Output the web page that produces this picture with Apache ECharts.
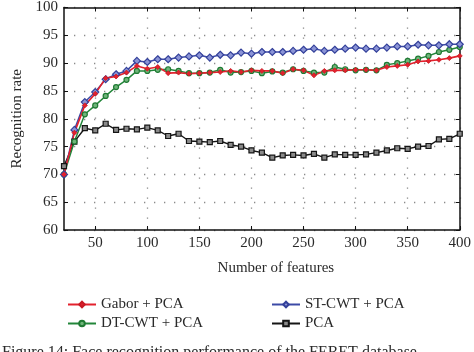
<!DOCTYPE html>
<html>
<head>
<meta charset="utf-8">
<script src="https://cdn.jsdelivr.net/npm/echarts@6/dist/echarts.min.js"></script>
<style>
  html, body { margin: 0; padding: 0; background: #fff; }
  #chart { width: 474px; height: 352px; }
</style>
</head>
<body>
<div id="chart"></div>
<script>
// number of features (x values)
const features = [20, 30, 40, 50, 60, 70, 80, 90, 100, 110, 120, 130, 140, 150, 160, 170, 180, 190, 200,
  210, 220, 230, 240, 250, 260, 270, 280, 290, 300, 310, 320, 330, 340, 350, 360, 370, 380, 390, 400];

// recognition rates
const gaborPca = [70.0, 77.5, 82.4, 84.5, 87.3, 87.6, 88.3, 89.5, 89.0,
  89.3, 88.2, 88.3, 88.1, 88.2, 88.3, 88.4, 88.6, 88.4, 88.7,
  88.6, 88.6, 88.2, 88.9, 88.7, 87.8, 88.6, 88.7, 88.7, 88.8,
  88.8, 88.7, 89.3, 89.5, 89.7, 90.3, 90.4, 90.6, 90.9, 91.3];
const dtCwtPca = [70.0, 75.9, 80.8, 82.4, 84.1, 85.7, 87.0, 88.6, 88.6,
  88.8, 88.9, 88.6, 88.2, 88.2, 88.3, 88.8, 88.3, 88.4, 88.6,
  88.2, 88.5, 88.3, 88.9, 88.6, 88.3, 88.3, 89.3, 88.9, 88.7,
  88.8, 88.7, 89.7, 90.0, 90.4, 90.8, 91.3, 92.0, 92.4, 92.9];
const stCwtPca = [70.0, 78.0, 83.0, 84.8, 87.1, 88.0, 88.6, 90.4, 90.2,
  90.7, 90.7, 91.0, 91.2, 91.4, 91.0, 91.5, 91.4, 91.9, 91.7,
  92.0, 92.0, 92.0, 92.2, 92.4, 92.6, 92.2, 92.4, 92.6, 92.8,
  92.6, 92.6, 92.8, 93.0, 93.0, 93.3, 93.2, 93.2, 93.4, 93.4];
const pcaOnly = [71.5, 75.9, 78.3, 77.9, 79.1, 78.0, 78.2, 78.1, 78.4,
  77.9, 76.9, 77.3, 76.0, 75.9, 75.8, 76.0, 75.3, 75.0, 74.3,
  73.9, 73.0, 73.4, 73.5, 73.4, 73.7, 73.0, 73.6, 73.5, 73.5,
  73.6, 73.9, 74.3, 74.7, 74.6, 75.0, 75.1, 76.3, 76.4, 77.3];

const xTicks = [50, 100, 150, 200, 250, 300, 350, 400];

const FONT = "'Liberation Serif', 'DejaVu Serif', serif";
const TEXT = "#2a2a2a";

const pairs = (ys) => features.map((x, i) => [x, ys[i]]);

const chart = echarts.init(document.getElementById("chart"), null, { renderer: "canvas" });

const gridLine = {
  show: true,
  lineStyle: { color: "#8a8a8a", width: 1.3, type: [1.3, 8.7] },
};

const legendBase = {
  orient: "vertical",
  top: 292,
  itemWidth: 28,
  itemHeight: 7,
  itemGap: 4,
  textStyle: { fontFamily: FONT, fontSize: 15, color: TEXT },
};

const option = {
  animation: false,
  backgroundColor: "#fff",
  textStyle: { fontFamily: FONT },
  grid: { left: 64, right: 11, top: 4, bottom: 122 },
  xAxis: [
    {
      type: "value",
      min: 20,
      max: 400,
      position: "bottom",
      name: "Number of features",
      nameLocation: "middle",
      nameGap: 31,
      nameTextStyle: { fontFamily: FONT, fontSize: 15, color: TEXT, padding: [0, 0, 0, 28] },
      axisLine: { onZero: false, lineStyle: { color: "#111", width: 1.5 } },
      axisTick: { inside: true, length: 4, customValues: xTicks, lineStyle: { color: "#111" } },
      axisLabel: { customValues: xTicks, margin: 6, fontFamily: FONT, fontSize: 15, color: TEXT },
      splitLine: gridLine,
    },
    {
      type: "value",
      min: 20,
      max: 400,
      position: "top",
      axisLine: { onZero: false, lineStyle: { color: "#111", width: 1.5 } },
      axisTick: { inside: true, length: 4, customValues: xTicks, lineStyle: { color: "#111" } },
      axisLabel: { show: false },
      splitLine: { show: false },
    },
  ],
  yAxis: [
    {
      type: "value",
      min: 60,
      max: 100,
      interval: 5,
      name: "Recognition rate",
      nameLocation: "middle",
      nameGap: 36,
      nameTextStyle: { fontFamily: FONT, fontSize: 15, color: TEXT },
      axisLine: { show: true, onZero: false, lineStyle: { color: "#111", width: 1.5 } },
      axisTick: { show: true, inside: true, length: 4, lineStyle: { color: "#111" } },
      axisLabel: { margin: 6, fontFamily: FONT, fontSize: 15, color: TEXT },
      splitLine: gridLine,
    },
    {
      type: "value",
      min: 60,
      max: 100,
      interval: 5,
      position: "right",
      axisLine: { show: true, onZero: false, lineStyle: { color: "#111", width: 1.5 } },
      axisTick: { show: true, inside: true, length: 4, lineStyle: { color: "#111" } },
      axisLabel: { show: false },
      splitLine: { show: false },
    },
  ],
  legend: [
    Object.assign({}, legendBase, { left: 62, data: ["Gabor + PCA", "DT-CWT + PCA"] }),
    Object.assign({}, legendBase, { left: 266, data: ["ST-CWT + PCA", "PCA"] }),
  ],
  graphic: [
    {
      type: "text",
      left: 2,
      top: 345,
      style: {
        text: "Figure 14: Face recognition performance of the FERET database",
        font: "16px " + FONT,
        fill: TEXT,
      },
    },
  ],
  series: [
    {
      name: "PCA",
      type: "line",
      data: pairs(pcaOnly),
      symbol: "rect",
      symbolSize: 5,
      lineStyle: { color: "#151515", width: 1.4 },
      itemStyle: { color: "#8a8a8a", borderColor: "#151515", borderWidth: 1.2 },
    },
    {
      name: "DT-CWT + PCA",
      type: "line",
      data: pairs(dtCwtPca),
      symbol: "circle",
      symbolSize: 5,
      lineStyle: { color: "#23863a", width: 1.5 },
      itemStyle: { color: "#6fb57a", borderColor: "#1f7a33", borderWidth: 1.2 },
    },
    {
      name: "ST-CWT + PCA",
      type: "line",
      data: pairs(stCwtPca),
      symbol: "diamond",
      symbolSize: 7,
      lineStyle: { color: "#3c4aa6", width: 1.5 },
      itemStyle: { color: "#8b94d6", borderColor: "#33409a", borderWidth: 1.2 },
    },
    {
      name: "Gabor + PCA",
      type: "line",
      data: pairs(gaborPca),
      symbol: "diamond",
      symbolSize: 5,
      lineStyle: { color: "#e3212d", width: 1.6 },
      itemStyle: { color: "#e3212d", borderColor: "#c81a25", borderWidth: 0.8 },
    },
  ],
};

chart.setOption(option);
</script>
</body>
</html>
